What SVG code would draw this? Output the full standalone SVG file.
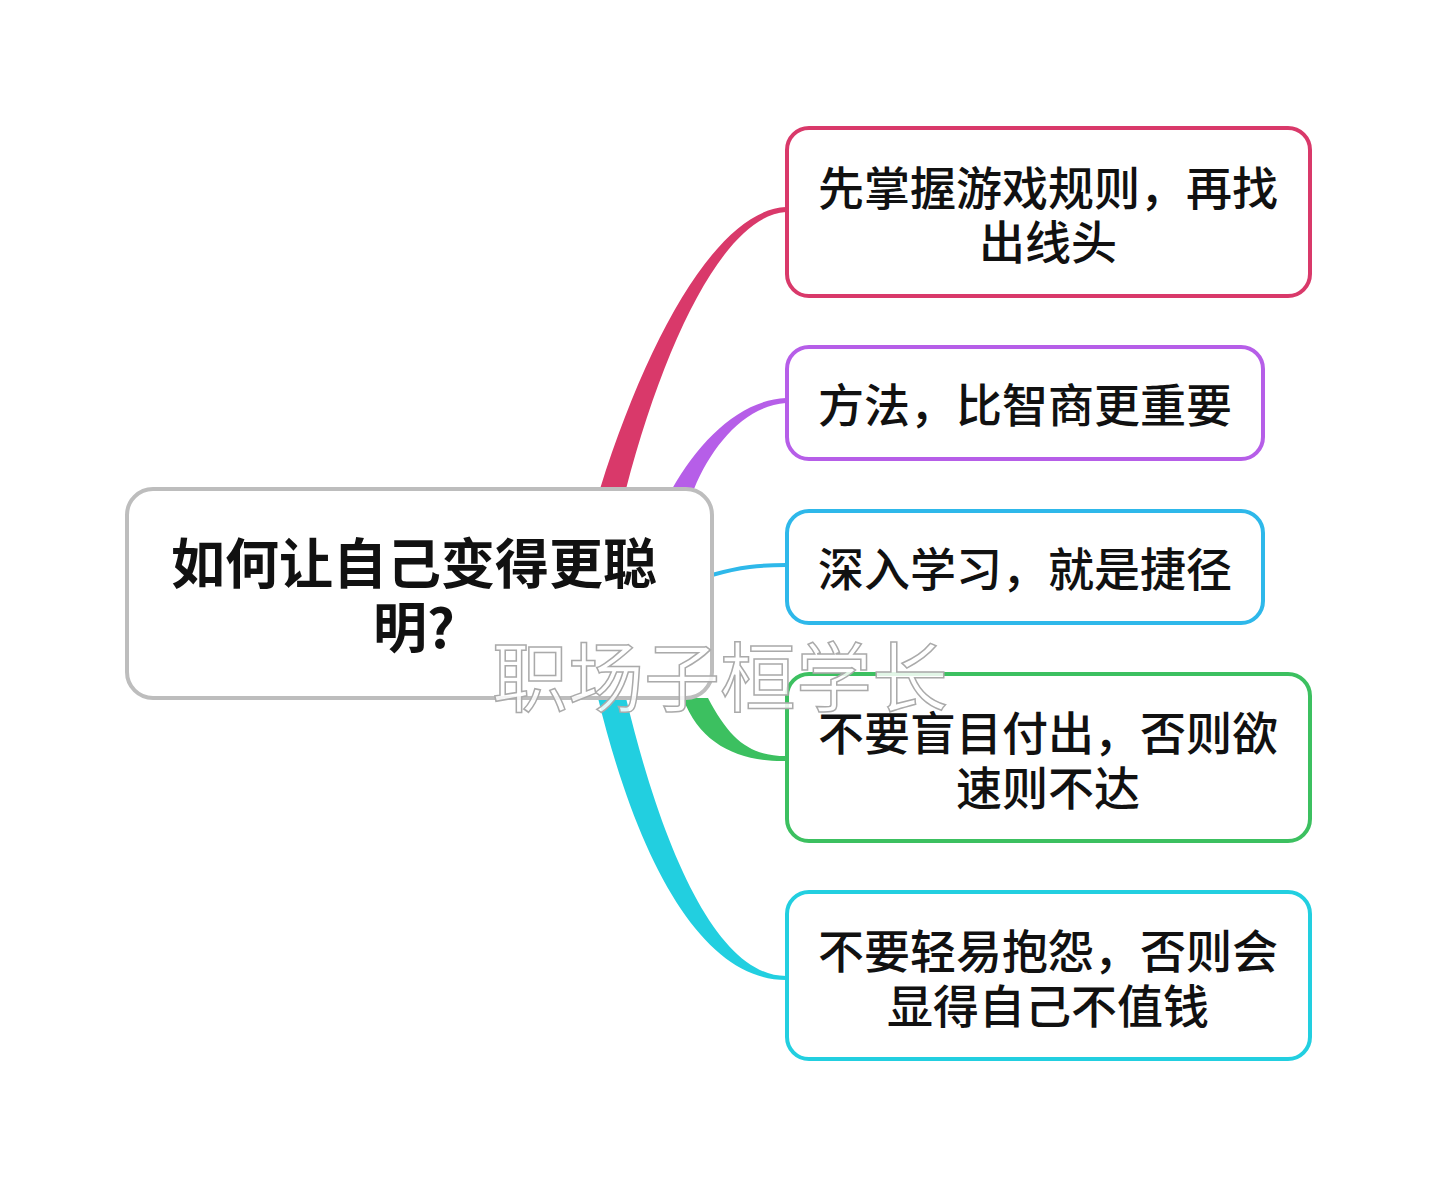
<svg xmlns="http://www.w3.org/2000/svg" width="1440" height="1188" viewBox="0 0 1440 1188">
<style>
.n{fill:#fff;stroke-width:4}
.t{font-family:"Noto Sans CJK SC","Noto Sans",sans-serif;font-size:46px;font-weight:500;fill:#111;text-anchor:middle}
.c{font-size:54px;font-weight:700}
</style>
<rect width="1440" height="1188" fill="#fff"/>
<g id="connectors">
<path d="M600,489 C650,330 720,210 786,207 L786,212 C725,216 665,340 626,489 Z" fill="#d9396a"/>
<path d="M672,489 C700,440 740,400 786,398 L786,403 C745,406 712,445 694,489 Z" fill="#b65ee8"/>
<path d="M712,575 C740,567 760,565 786,565" fill="none" stroke="#2eb8ea" stroke-width="4"/>
<path d="M708,698 C730,740 750,756 786,756 L786,761 C740,762 700,745 683,698 Z" fill="#3cc060"/>
<path d="M626,698 C665,860 720,976 786,976 L786,980 C705,980 640,870 598,698 Z" fill="#22cfe0"/>
</g>
<g id="center">
<rect x="127" y="489" width="585" height="209" rx="26" class="n" stroke="#bdbdbd" stroke-width="5"/>
<text x="414" y="584" class="t c">如何让自己变得更聪</text>
<text x="414" y="648" class="t c">明?</text>
</g>
<g id="n1">
<rect x="787" y="128" width="523" height="168" rx="22" class="n" stroke="#d9396a"/>
<text x="1048" y="205" class="t">先掌握游戏规则，再找</text>
<text x="1048" y="259" class="t">出线头</text>
</g>
<g id="n2">
<rect x="787" y="347" width="476" height="112" rx="22" class="n" stroke="#b65ee8"/>
<text x="1025" y="422" class="t">方法，比智商更重要</text>
</g>
<g id="n3">
<rect x="787" y="511" width="476" height="112" rx="22" class="n" stroke="#2eb8ea"/>
<text x="1025" y="586" class="t">深入学习，就是捷径</text>
</g>
<g id="n4">
<rect x="787" y="674" width="523" height="167" rx="22" class="n" stroke="#3cc060"/>
<text x="1048" y="750" class="t">不要盲目付出，否则欲</text>
<text x="1048" y="805" class="t">速则不达</text>
</g>
<g id="n5">
<rect x="787" y="892" width="523" height="167" rx="22" class="n" stroke="#22cfe0"/>
<text x="1048" y="968" class="t">不要轻易抱怨，否则会</text>
<text x="1048" y="1023" class="t">显得自己不值钱</text>
</g>
<text x="720" y="706" font-family="Noto Sans CJK SC,sans-serif" font-size="76" text-anchor="middle" fill="#fff" fill-opacity="0.85" stroke="#aaa" stroke-width="1.5">职场子桓学长</text>
</svg>
